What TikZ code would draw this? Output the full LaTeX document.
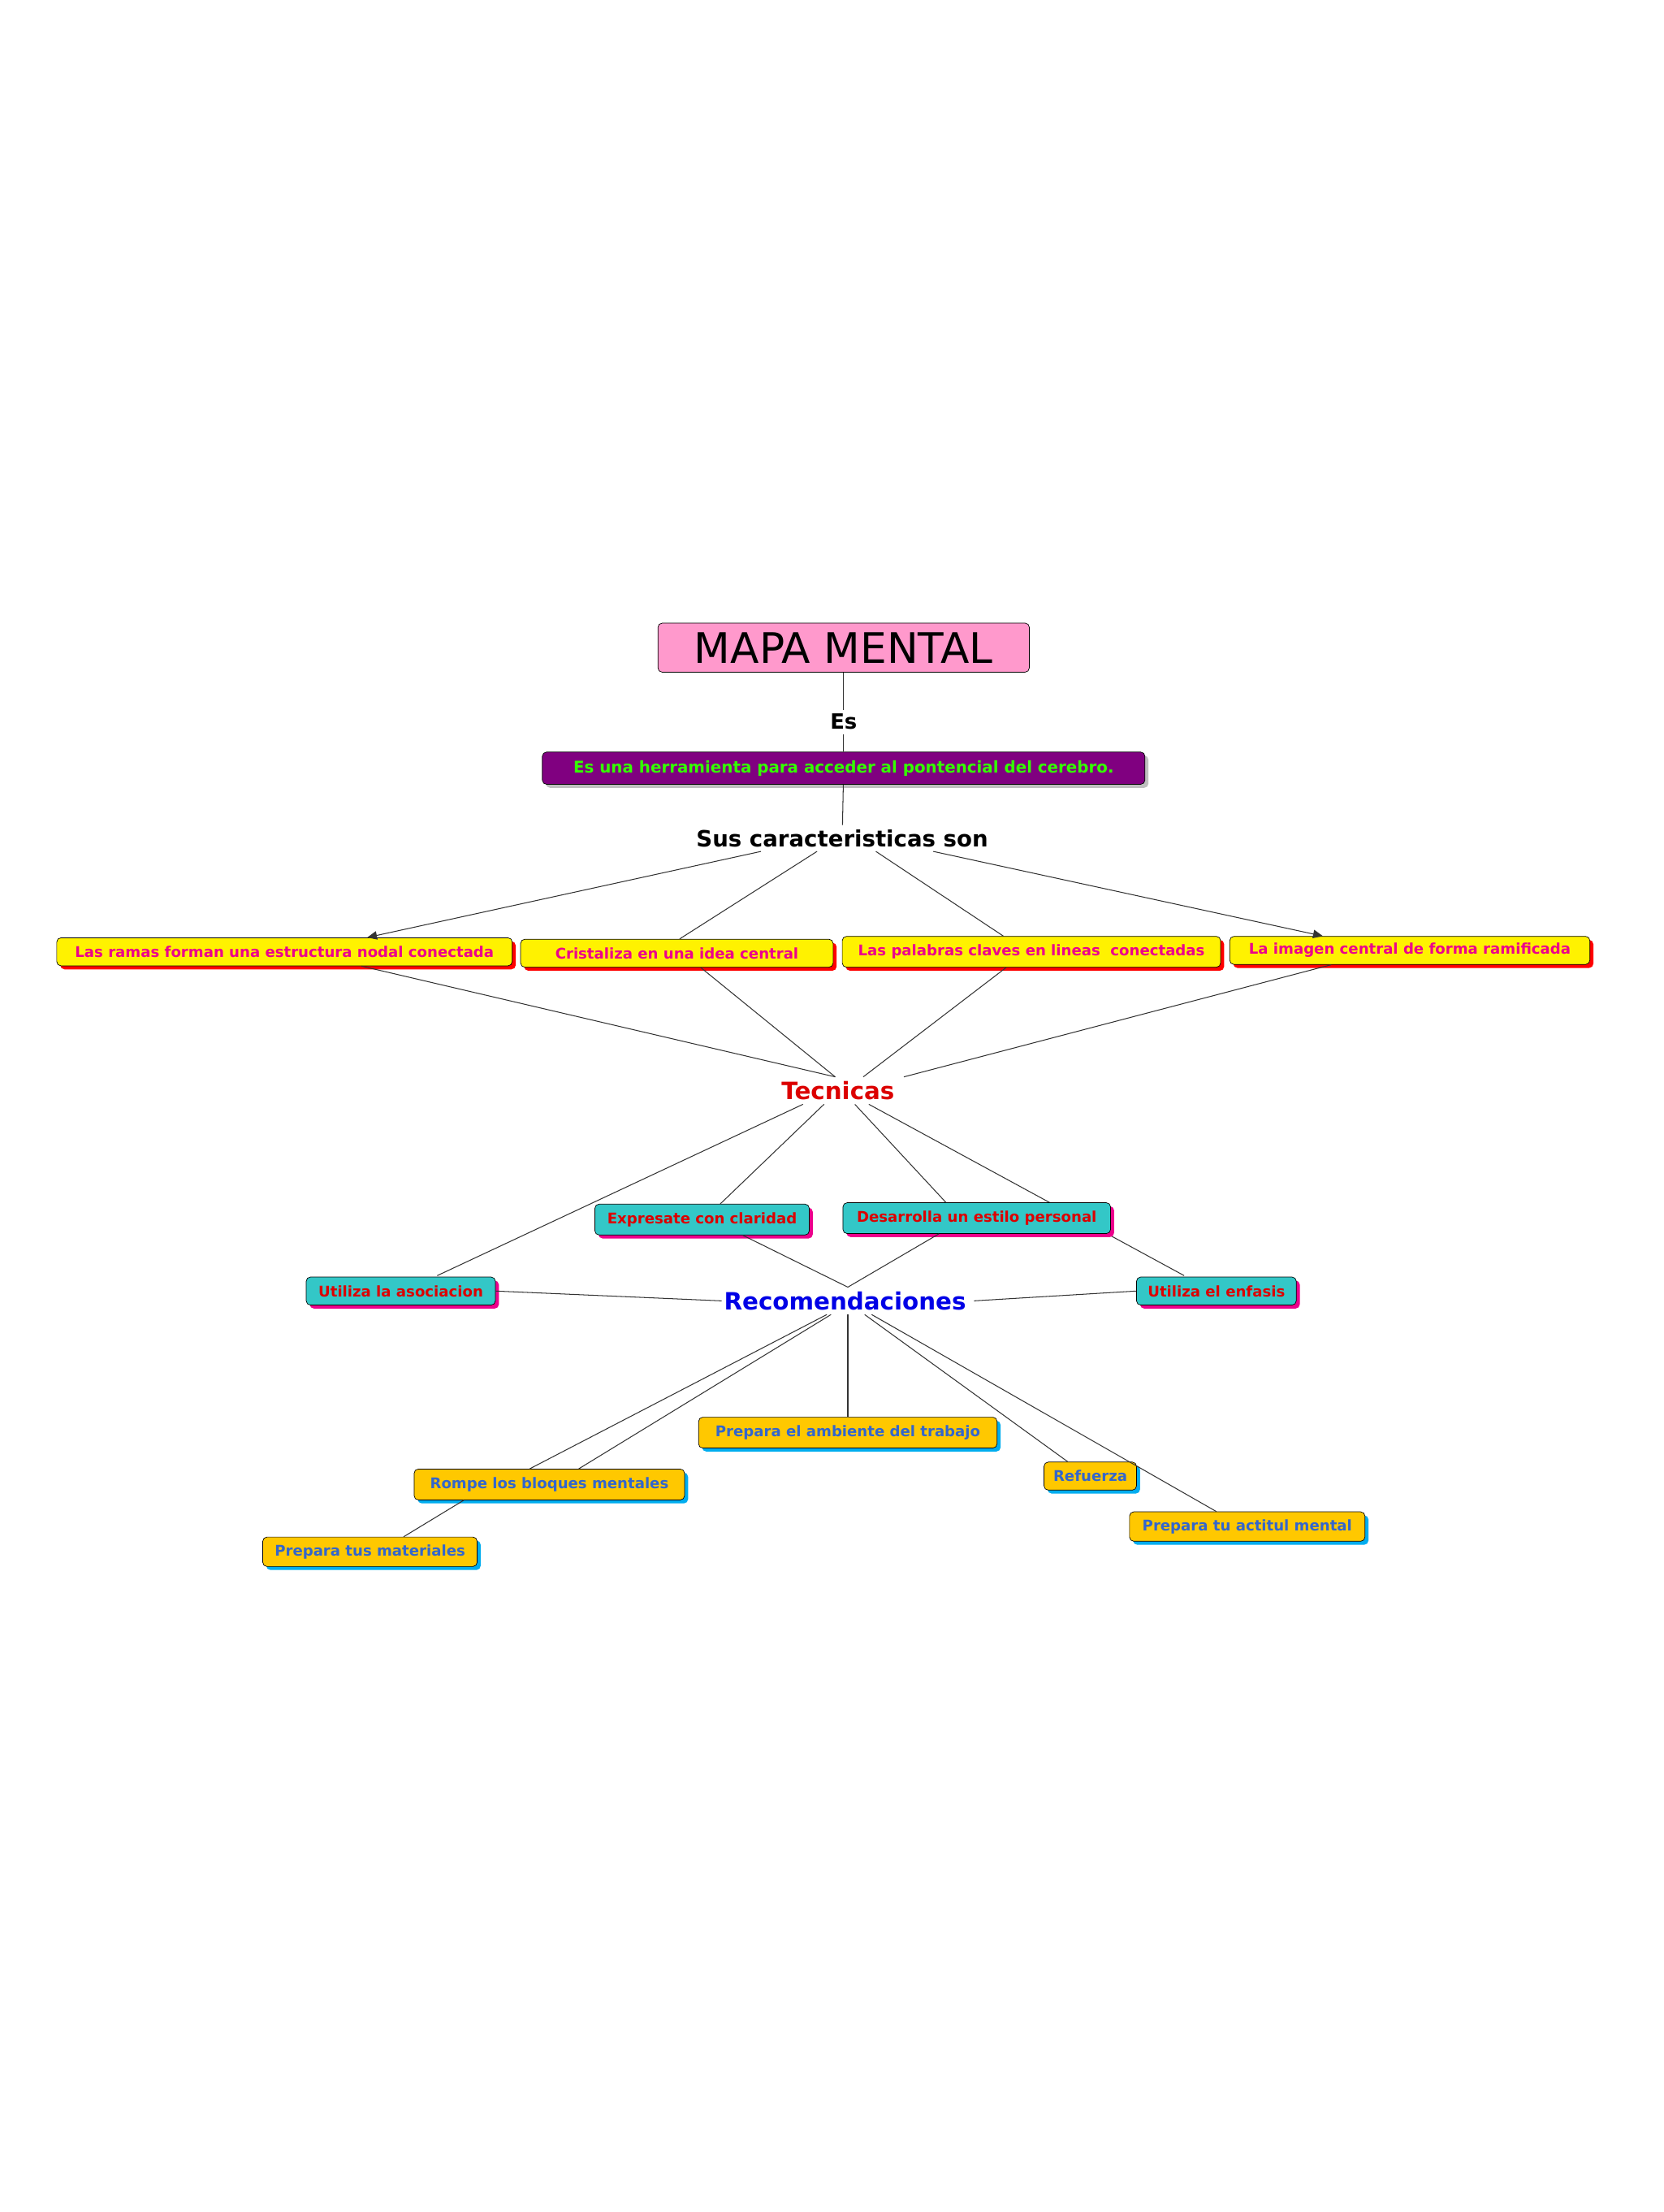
\documentclass[tikz,border=0pt]{standalone}
\usepackage{fontspec}
\setmainfont{DejaVu Sans}
\usetikzlibrary{shadows,arrows.meta}
\begin{document}
\begin{tikzpicture}[x=1pt,y=-1pt,
  box/.style={draw=black,rounded corners=3pt,inner sep=1pt,font=\bfseries\fontsize{10.5}{12}\selectfont,minimum height=20pt},
  ybox/.style={box,fill=yellow,text=magenta,drop shadow={shadow xshift=2.5pt,shadow yshift=-2.5pt,fill=red,opacity=1}},
  tbox/.style={box,fill={rgb,255:red,51;green,199;blue,199},text={rgb,255:red,220;green,0;blue,0},drop shadow={shadow xshift=2.5pt,shadow yshift=-2.5pt,fill=magenta,opacity=1}},
  obox/.style={box,fill={rgb,255:red,255;green,200;blue,0},text={rgb,255:red,51;green,102;blue,204},drop shadow={shadow xshift=2.5pt,shadow yshift=-2.5pt,fill=cyan,opacity=1}},
  lbl/.style={font=\bfseries\fontsize{15}{17}\selectfont,inner sep=3pt},
  ln/.style={draw=black!80,line width=0.6pt}]
\useasboundingbox[fill=white] (0,0) rectangle (1187,1578);
\node[draw=black,rounded corners=3pt,fill={rgb,255:red,255;green,153;blue,204},minimum width=265pt,minimum height=35pt,font=\fontsize{30}{34}\selectfont,inner sep=0pt] (t) at (602,462) {MAPA MENTAL\hspace{12pt}};
\node[lbl] (es) at (602,515) {Es};
\node[box,fill={rgb,255:red,128;green,0;blue,128},text={rgb,255:red,51;green,255;blue,0},minimum width=430pt,minimum height=23pt,font=\bfseries\fontsize{11.5}{13}\selectfont,drop shadow={shadow xshift=2.5pt,shadow yshift=-2.5pt,fill=black!25,opacity=1}] (h) at (602,548) {Es una herramienta para acceder al pontencial del cerebro.\hspace{8pt}};
\node[lbl,font=\bfseries\fontsize{16}{18}\selectfont] (s) at (601,598) {Sus caracteristicas son};
\node[ybox,minimum width=325pt] (y1) at (203,679) {Las ramas forman una estructura nodal conectada};
\node[ybox,minimum width=223pt] (y2) at (483,680) {Cristaliza en una idea central};
\node[ybox,minimum width=270pt,minimum height=22pt] (y3) at (736,679) {Las palabras claves en lineas\ \ conectadas};
\node[ybox,minimum width=257pt] (y4) at (1006,678) {La imagen central de forma ramificada};
\node[lbl,text={rgb,255:red,220;green,0;blue,0},font=\bfseries\fontsize{17}{19}\selectfont] (tec) at (598,778) {Tecnicas};
\node[lbl,text={rgb,255:red,0;green,0;blue,230},font=\bfseries\fontsize{17}{19}\selectfont] (rec) at (603,928) {Recomendaciones};
\coordinate (asoc) at (312,910);
\coordinate (enf) at (845,910);
\draw[ln] (t) -- (es);
\draw[ln] (es) -- (h);
\draw[ln] (h) -- (s);
\draw[ln,-{Triangle[length=7pt,width=6pt]}] ([xshift=-58pt]s.south) -- ([xshift=59pt]y1.north);
\draw[ln] ([xshift=-18pt]s.south) -- ([xshift=2pt]y2.north);
\draw[ln] ([xshift=24pt]s.south) -- ([xshift=-20pt]y3.north);
\draw[ln,-{Triangle[length=7pt,width=6pt]}] ([xshift=65pt]s.south) -- ([xshift=-62pt]y4.north);
\draw[ln] ([xshift=55pt]y1.south) -- ([xshift=-2pt]tec.north);
\draw[ln] ([xshift=17pt]y2.south) -- ([xshift=-2pt]tec.north);
\draw[ln] ([xshift=-18pt]y3.south) -- ([xshift=18pt]tec.north);
\draw[ln] ([xshift=-56pt]y4.south) -- ([xshift=47pt]tec.north);
\draw[ln] ([xshift=-25pt]tec.south) -- (asoc);
\draw[ln] ([xshift=22pt]tec.south) -- (enf);
\node[tbox,minimum width=153pt,minimum height=22pt] (e1) at (501,870) {Expresate con claridad};
\node[tbox,minimum width=191pt,minimum height=22pt] (e2) at (697,869) {Desarrolla un estilo personal};
\node[tbox,minimum width=135pt] (e3) at (286,921) {Utiliza la asociacion};
\node[tbox,minimum width=114pt] (e4) at (868,921) {Utiliza el enfasis};
\draw[ln] ([xshift=-10pt]tec.south) -- ([xshift=13pt]e1.north);
\draw[ln] ([xshift=12pt]tec.south) -- ([xshift=-22pt]e2.north);
\draw[ln] ([xshift=29pt]e1.south) -- ([xshift=2pt]rec.north);
\draw[ln] ([xshift=-27pt]e2.south) -- ([xshift=2pt]rec.north);
\draw[ln] (e3.east) -- ([xshift=-88pt]rec.center);
\draw[ln] ([xshift=92pt]rec.center) -- (e4.west);
\node[obox,minimum width=213pt,minimum height=22pt] (o1) at (605,1022) {Prepara el ambiente del trabajo};
\node[obox,minimum width=193pt,minimum height=22pt] (o2) at (392,1059) {Rompe los bloques mentales};
\node[obox,minimum width=66pt] (o3) at (778,1053) {Refuerza};
\node[obox,minimum width=168pt,minimum height=21pt] (o4) at (890,1089) {Prepara tu actitul mental};
\node[obox,minimum width=153pt,minimum height=21pt] (o5) at (264,1107) {Prepara tus materiales};
\draw[ln] ([xshift=-13pt]rec.south) -- ([xshift=-14pt]o2.north);
\draw[ln] ([xshift=-10pt]rec.south) -- ([xshift=21pt]o2.north);
\draw[ln] ([xshift=2pt]rec.south) -- (o1.north);
\draw[ln] ([xshift=14pt]rec.south) -- ([xshift=-16pt]o3.north);
\draw[ln] ([xshift=19pt]rec.south) -- ([xshift=-22pt]o4.north);
\draw[ln] ([xshift=-61pt]o2.south) -- ([xshift=24pt]o5.north);
\end{tikzpicture}
\end{document}
